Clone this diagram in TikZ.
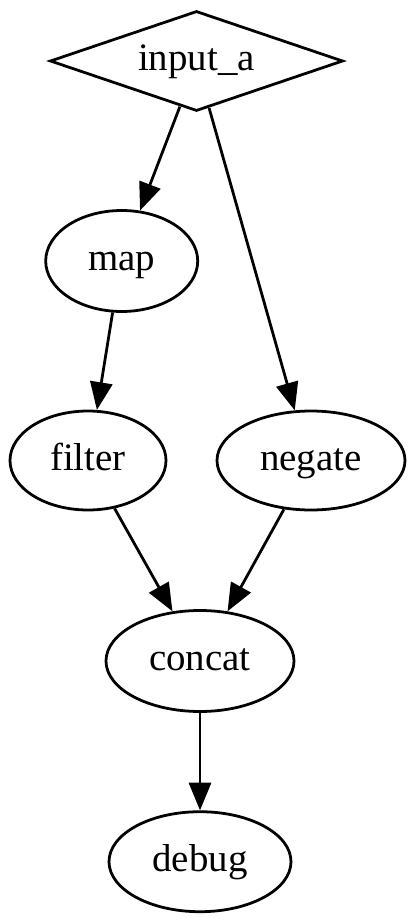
\documentclass[tikz,border=0pt]{standalone}
\usepackage{fontspec}
\setmainfont{Liberation Serif}
\usetikzlibrary{shapes.geometric,arrows.meta}
\begin{document}
\begin{tikzpicture}[x=0.36pt,y=-0.36pt,
  every node/.style={font=\fontsize{14pt}{16pt}\selectfont, draw=black, line width=1pt, inner sep=0pt, text height=10pt, text depth=3pt},
  ell/.style={ellipse},
  dia/.style={diamond, shape aspect=2.93},
  edge/.style={draw=black, line width=1pt, -{Triangle[length=10pt,width=8pt]}}]
\useasboundingbox (0,0) rectangle (416,922);
\node[dia, minimum width=293*0.36pt, minimum height=100*0.36pt] (in) at (196.5,61) {input\_a};
\node[ell, minimum width=152*0.36pt, minimum height=101*0.36pt] (map) at (121.7,261) {map};
\node[ell, minimum width=156*0.36pt, minimum height=99*0.36pt] (filter) at (88,460.5) {filter};
\node[ell, minimum width=188*0.36pt, minimum height=99*0.36pt] (negate) at (311,460.5) {negate};
\node[ell, minimum width=188*0.36pt, minimum height=101*0.36pt] (concat) at (200,661) {concat};
\node[ell, minimum width=182*0.36pt, minimum height=100*0.36pt] (debug) at (200,861.7) {debug};
\draw[edge] (in.250.3) -- (map.70);
\draw[edge] (in.285.7) -- (negate.108);
\draw[edge] (map.260.3) -- (filter.80);
\draw[edge] (filter.299) -- (concat.119.2);
\draw[edge] (negate.241) -- (concat.61.6);
\draw[edge] (concat.south) -- (debug.north);
\end{tikzpicture}
\end{document}
